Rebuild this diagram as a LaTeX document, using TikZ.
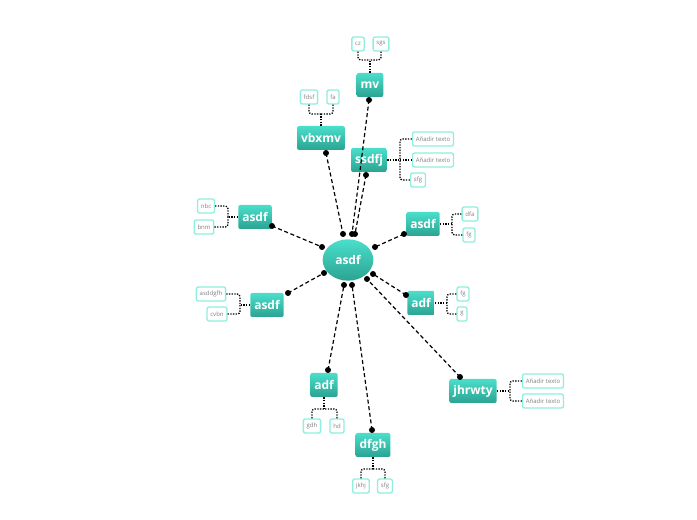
\documentclass[tikz,border=0pt]{standalone}
\usepackage{fontspec}
\setmainfont{Open Sans}
\usetikzlibrary{shapes.geometric}
\definecolor{tq}{HTML}{4ADFCB}
\definecolor{tqd}{HTML}{2BA392}
\definecolor{lb}{HTML}{8FEEDD}
\tikzset{
 mainbox/.style={rectangle,rounded corners=1.5pt,top color=tq,bottom color=tqd,draw=none,text=white,font=\bfseries\fontsize{9}{10}\selectfont,minimum height=18pt,inner xsep=3pt},
 leaf/.style={rectangle,rounded corners=1.5pt,draw=lb,line width=1pt,fill=white,text=gray,font=\fontsize{4.5}{5}\selectfont,minimum height=10.5pt,inner xsep=2.5pt,inner ysep=1pt},
 conn/.style={densely dashed,line width=0.9pt},
 br/.style={densely dotted,line width=1pt,rounded corners=2pt},
 dot/.style={circle,fill=black,inner sep=0pt,minimum size=4.5pt}
}
\begin{document}
\begin{tikzpicture}[x=0.75pt,y=-0.75pt]
\path[use as bounding box] (0,0) rectangle (697,520);
\node[ellipse,top color=tq,bottom color=tqd,text=white,font=\bfseries\fontsize{9}{10}\selectfont,minimum width=38pt,minimum height=31pt] (c) at (348,260) {asdf};
\node[mainbox] (mv) at (370,85) {mv};
\node[mainbox] (vb) at (321,138) {vbxmv};
\node[mainbox] (ss) at (369,160) {ssdfj};
\node[mainbox] (al) at (255,217) {asdf};
\node[mainbox] (ar) at (423,224) {asdf};
\node[mainbox] (all) at (267,305) {asdf};
\node[mainbox] (adr) at (421,303) {adf};
\node[mainbox] (jh) at (473,391) {jhrwty};
\node[mainbox] (adb) at (324,385) {adf};
\node[mainbox] (df) at (373,445) {dfgh};
% connectors
\foreach \a/\b/\p/\q in {369/100/352/234, 326/153/343/234, 366/175/355/234, 272/226/322/247, 404/234/375/247, 288/293/324/273, 406/295/373/274, 460/377/367/279, 328/370/344/285, 372/430/352/285}{
 \coordinate (s) at (\a,\b); \coordinate (e) at (\p,\q);
 \draw[conn] (s) -- (e);
 \node[dot] at (s) {}; \node[dot] at (e) {};
}
% leaves
\node[leaf] (cz) at (358,44) {cz};
\node[leaf] (sgs) at (381,44) {sgs};
\coordinate (j1) at (370,60);
\draw[br] (mv.north) -- (j1); \draw[br] (cz.south) |- (j1); \draw[br] (sgs.south) |- (j1);
\node[leaf] (fd) at (309,97) {fdsf};
\node[leaf] (fa) at (333,97) {fa};
\coordinate (j2) at (321,114);
\draw[br] (vb.north) -- (j2); \draw[br] (fd.south) |- (j2); \draw[br] (fa.south) |- (j2);
\node[leaf] (s1) at (433,139) {Añadir texto};
\node[leaf] (s2) at (433,160) {Añadir texto};
\node[leaf] (s3) at (418,180) {sfg};
\coordinate (j3) at (400,160);
\draw[br] (ss.east) -- (j3); \draw[br] (s1.west) -| (j3); \draw[br] (s2.west) -- (j3); \draw[br] (s3.west) -| (j3);
\node[leaf] (nbc) at (206,206) {nbc};
\node[leaf] (bnm) at (204,227) {bnm};
\coordinate (j4) at (228,217);
\draw[br] (al.west) -- (j4); \draw[br] (nbc.east) -| (j4); \draw[br] (bnm.east) -| (j4);
\node[leaf] (dfa) at (470,214) {dfa};
\node[leaf] (fg1) at (469,235) {fg};
\coordinate (j5) at (452,224);
\draw[br] (ar.east) -- (j5); \draw[br] (dfa.west) -| (j5); \draw[br] (fg1.west) -| (j5);
\node[leaf] (asd) at (211,294) {asddgfh};
\node[leaf] (cv) at (217,314) {cvbn};
\coordinate (j6) at (240,305);
\draw[br] (all.west) -- (j6); \draw[br] (asd.east) -| (j6); \draw[br] (cv.east) -| (j6);
\node[leaf] (fg2) at (463,294) {fg};
\node[leaf] (g) at (462,314) {g};
\coordinate (j7) at (447,303);
\draw[br] (adr.east) -- (j7); \draw[br] (fg2.west) -| (j7); \draw[br] (g.west) -| (j7);
\node[leaf] (j1a) at (543,381) {Añadir texto};
\node[leaf] (j1b) at (543,401) {Añadir texto};
\coordinate (j8) at (510,391);
\draw[br] (jh.east) -- (j8); \draw[br] (j1a.west) -| (j8); \draw[br] (j1b.west) -| (j8);
\node[leaf] (gdh) at (312,426) {gdh};
\node[leaf] (hd) at (337,426) {hd};
\coordinate (j9) at (324,409);
\draw[br] (adb.south) -- (j9); \draw[br] (gdh.north) |- (j9); \draw[br] (hd.north) |- (j9);
\node[leaf] (jk) at (361,486) {jkhj};
\node[leaf] (sf) at (385,486) {sfg};
\coordinate (j10) at (373,469);
\draw[br] (df.south) -- (j10); \draw[br] (jk.north) |- (j10); \draw[br] (sf.north) |- (j10);
\end{tikzpicture}
\end{document}
